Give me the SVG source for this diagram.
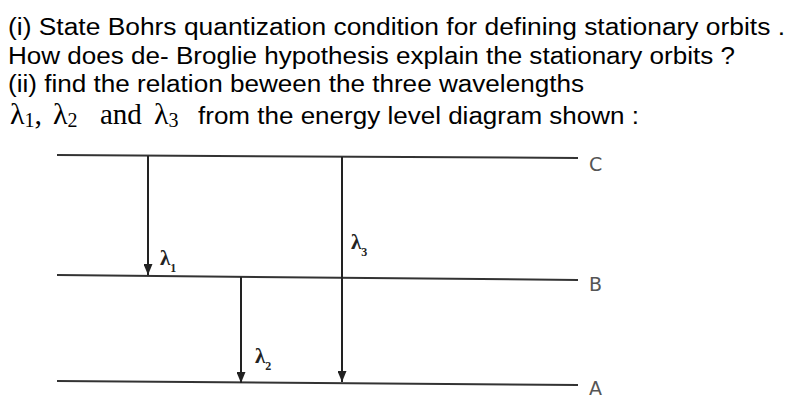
<svg xmlns="http://www.w3.org/2000/svg" width="800" height="414" viewBox="0 0 800 414">
<style>
.q{font-family:"Liberation Sans",Arial,sans-serif;font-size:23px;fill:#000}
.m{font-family:"Liberation Serif","Times New Roman",serif;fill:#000}
.lv{stroke:#333;stroke-width:2;fill:none}
.tr{stroke:#222;stroke-width:2;fill:none}
.lam{font-family:"Liberation Serif","Times New Roman",serif;font-size:21px;font-weight:bold;fill:#222}
.sub{font-size:12px}
.lab{font-family:"DejaVu Sans",sans-serif;font-size:19px;fill:#555;font-weight:normal}
</style>
<defs>
<marker id="ah" markerWidth="11" markerHeight="9" refX="11" refY="4.5" orient="auto" markerUnits="userSpaceOnUse" viewBox="0 0 11 9">
<path d="M0,0 L11,4.5 L0,9 Z" fill="#222"/>
</marker>
</defs>
<rect width="800" height="414" fill="#fff"/>
<g id="question">
<text class="q" x="8" y="35" textLength="777" lengthAdjust="spacingAndGlyphs">(i) State Bohrs quantization condition for defining stationary orbits .</text>
<text class="q" x="8" y="64" textLength="727" lengthAdjust="spacingAndGlyphs">How does de- Broglie hypothesis explain the stationary orbits ?</text>
<text class="q" x="8" y="92" textLength="576" lengthAdjust="spacingAndGlyphs">(ii) find the relation beween the three wavelengths</text>
<text class="m" y="124" font-size="30"><tspan x="10">λ</tspan><tspan font-size="20" dy="3">1</tspan><tspan dy="-3">,</tspan><tspan x="53">λ</tspan><tspan font-size="20" dy="3">2</tspan><tspan x="100" dy="-3" font-size="29">and</tspan><tspan x="154">λ</tspan><tspan font-size="20" dy="3">3</tspan></text>
<text class="q" x="198" y="124" textLength="441" lengthAdjust="spacingAndGlyphs">from the energy level diagram shown :</text>
</g>
<g id="level-C">
<line class="lv" x1="57" y1="155" x2="578" y2="158"/>
<text class="lab" x="589" y="171">C</text>
</g>
<g id="level-B">
<line class="lv" x1="57" y1="275" x2="578" y2="280"/>
<text class="lab" x="589" y="291">B</text>
</g>
<g id="level-A">
<line class="lv" x1="57" y1="381" x2="578" y2="385"/>
<text class="lab" x="589" y="395">A</text>
</g>
<g id="connectors">
<line class="tr" x1="148" y1="156" x2="148" y2="275" marker-end="url(#ah)"/>
<line class="tr" x1="342" y1="157" x2="342" y2="382" marker-end="url(#ah)"/>
<line class="tr" x1="241" y1="277" x2="241" y2="383" marker-end="url(#ah)"/>
<text class="lam" x="160" y="265">λ<tspan class="sub" dy="7">1</tspan></text>
<text class="lam" x="351" y="249">λ<tspan class="sub" dy="7">3</tspan></text>
<text class="lam" x="255" y="363">λ<tspan class="sub" dy="7">2</tspan></text>
</g>
</svg>
